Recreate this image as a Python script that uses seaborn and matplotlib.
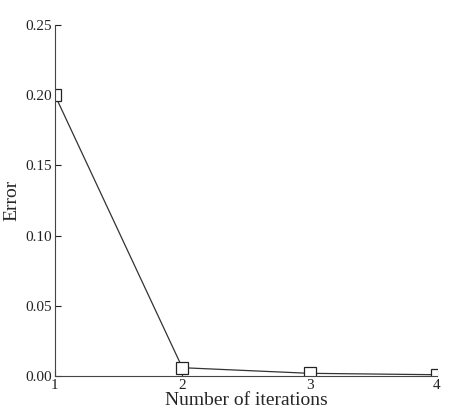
import matplotlib
matplotlib.use('Agg')
import matplotlib.pyplot as plt
import seaborn as sns

iterations = [1, 2, 3, 4]
errors = [0.200, 0.006, 0.002, 0.001]

sns.set_theme(style='ticks')
plt.rcParams['font.family'] = ['Liberation Serif', 'DejaVu Serif']

fig = plt.figure(figsize=(4.74, 4.17), dpi=100)
ax = fig.add_axes([0.116, 0.098, 0.806, 0.842])
sns.lineplot(x=iterations, y=errors, ax=ax, color='#333333', linewidth=0.9,
             marker='s', markersize=8, markerfacecolor='white',
             markeredgecolor='#222222', markeredgewidth=0.9)
ax.set_xlim(1, 4)
ax.set_ylim(0, 0.25)
ax.set_xticks(iterations)
ax.set_yticks([0, 0.05, 0.10, 0.15, 0.20, 0.25])
ax.set_yticklabels(['0.00', '0.05', '0.10', '0.15', '0.20', '0.25'])
ax.tick_params(direction='in', length=4, width=0.8, labelsize=11, colors='#222222', pad=2)
for s in ['top', 'right']:
    ax.spines[s].set_visible(False)
for s in ['left', 'bottom']:
    ax.spines[s].set_color('#444444')
    ax.spines[s].set_linewidth(0.8)
ax.set_xlabel('Number of iterations', fontsize=14, labelpad=0)
ax.set_ylabel('Error', fontsize=14, labelpad=4)
fig.savefig('out.png', dpi=100)
